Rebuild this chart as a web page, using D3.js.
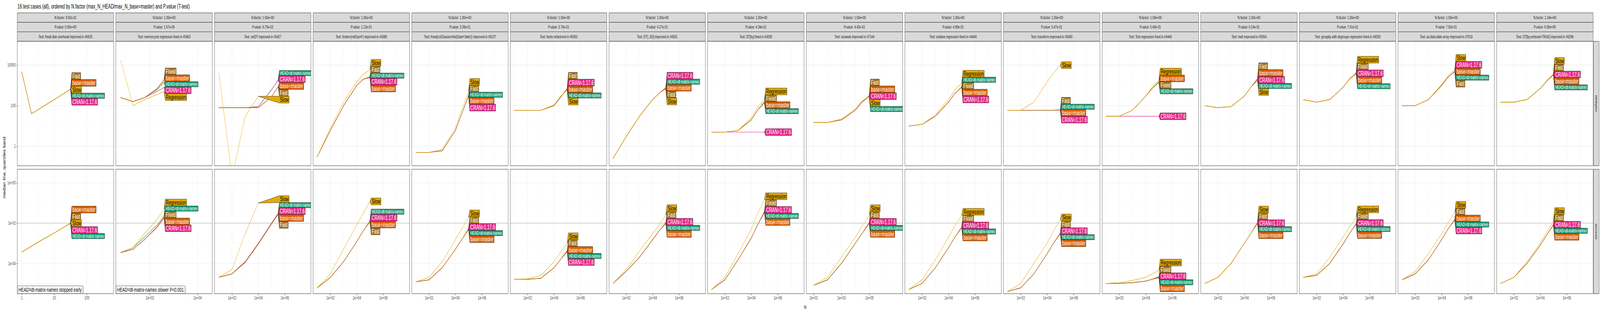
<!DOCTYPE html>
<html>
<head>
<meta charset="utf-8">
<script src="https://cdn.jsdelivr.net/npm/d3@7"></script>
<style>
  html, body { margin: 0; padding: 0; background: #fff; overflow: hidden; }
  svg { display: block; }
  text { font-family: "Liberation Sans", Arial, sans-serif; }
</style>
</head>
<body>
<script>
// ---------------------------------------------------------------- data
const titleText = "16 test cases (all), ordered by N.factor (max_N_HEAD/max_N_base=master) and P.value (T-test)"

const testNames = [
  "fread disk overhead improved in #6925",
  "memrecycle regression fixed in #5463",
  "setDT improved in #5427",
  "forderv(retGrp=F) improved in #4386",
  "fread(colClasses=list(Date='date')) improved in #6107",
  "fwrite refactored in #6393",
  "DT[,.SD] improved in #4501",
  "DT[by] fixed in #4200",
  "isoweek improved in #7144",
  "shallow regression fixed in #4440",
  "transform improved in #5493",
  "Test regression fixed in #4440",
  "melt improved in #5054",
  "groupby with dogroups regression fixed in #4200",
  "as.data.table.array improved in #7019",
  "DT[by,verbose=TRUE] improved in #6296"
]
const nFactors = [0.992, 1, 1, 1, 1, 1, 1, 1, 1, 1, 1, 1, 1, 1, 1, 1.24]
const pValues = [0, 1.67e-6, 6.75e-2, 1.12e-1, 3.39e-1, 3.76e-1, 4.27e-1, 4.34e-1,
  4.42e-1, 4.89e-1, 5.47e-1, 5.49e-1, 6.24e-1, 7.41e-1, 7.92e-1, 0]

// x axis limits (N) and tick labels for every column
const xLimits = [
  [0.73, 676], [3.8, 4.2e4], [4.7, 0.99e8], [5, 0.99e8], [5, 0.99e8], [5, 0.99e8], [5, 0.99e8], [5, 0.99e8],
  [3, 2.5e7], [5, 0.99e8], [5, 0.99e8], [5, 0.99e8], [5, 0.99e8], [5, 0.99e8], [5, 0.99e8], [5, 0.99e8]
]
const xTickLabels = [
  ["1", "10", "100"], ["1e+02", "1e+04"], ["1e+02", "1e+04", "1e+06"], ["1e+02", "1e+04", "1e+06"],
  ["1e+02", "1e+04", "1e+06"], ["1e+02", "1e+04", "1e+06"], ["1e+02", "1e+04", "1e+06"], ["1e+02", "1e+04", "1e+06"],
  ["1e+01", "1e+03", "1e+05"], ["1e+02", "1e+04", "1e+06"], ["1e+02", "1e+04", "1e+06"], ["1e+02", "1e+04", "1e+06"],
  ["1e+02", "1e+04", "1e+06"], ["1e+02", "1e+04", "1e+06"], ["1e+02", "1e+04", "1e+06"], ["1e+02", "1e+04", "1e+06"]
]
const yTopLabels = ["1", "100", "10000"]
const yBottomLabels = ["1e-04", "1e-02", "1e+00"]
const rowNames = ["kilobytes", "seconds"]

// N values of each column
const nValues = [
  [1, 2, 4, 8, 16, 32],
  [6, 20, 60, 200, 400],
  [10, 100, 1e3, 1e4, 1e5, 3.2e5],
  [10, 100, 1e3, 1e4, 3e4, 1e5], [10, 100, 1e3, 1e4, 3e4, 1e5], [10, 100, 1e3, 1e4, 3e4, 1e5],
  [10, 100, 1e3, 1e4, 3e4, 1e5], [10, 100, 1e3, 1e4, 3e4, 1e5], [10, 100, 1e3, 1e4, 3e4, 1e5],
  [10, 100, 1e3, 1e4, 3e4, 1e5], [10, 100, 1e3, 1e4, 3e4, 1e5], [10, 100, 1e3, 1e4, 3e4, 1e5],
  [10, 100, 1e3, 1e4, 3e4, 1e5], [10, 100, 1e3, 1e4, 3e4, 1e5], [10, 100, 1e3, 1e4, 3e4, 1e5],
  [10, 100, 1e3, 1e4, 3e4, 1e5]
]

const versionNames = ["HEAD=dt-matrix-names", "CRAN=1.17.6", "base=master"]
const fastNames = ["Fast", "Fixed", "Fast", "Fast", "Fast", "Fast", "Fast", "Fixed",
  "Fast", "Fixed", "Fast", "Fixed", "Fast", "Fixed", "Fast", "Fast"]
const slowNames = ["Slow", "Regression", "Slow", "Slow", "Slow", "Slow", "Slow", "Regression",
  "Slow", "Regression", "Slow", "Regression", "Slow", "Regression", "Slow", "Slow"]
const versionColors = ["#1B9E77", "#E7298A", "#D95F02", "#A6761D", "#E6AB02"]

const panelNotes = ["HEAD=dt-matrix-names stopped early", "HEAD=dt-matrix-names slower P<0.001"]

// memory (kilobytes), median per N
const kbHEAD = [
  [4700, 40, 80, 160, 320, 645], [250, 160, 250, 600, 1400], [80, 80, 80, 90, 600, 1800],
  [0.3, 6, 100, 1000, 2000, 2600], [0.5, 0.5, 0.6, 6, 40, 320], [60, 60, 60, 100, 250, 650],
  [0.25, 3, 30, 200, 400, 750], [5, 5, 6, 20, 60, 140], [15, 15, 20, 60, 150, 280],
  [10, 12, 30, 150, 400, 850], [60, 60, 60, 60, 60, 62], [30, 30, 60, 300, 700, 1400],
  [100, 80, 90, 300, 800, 1900], [200, 150, 200, 800, 2000, 3800], [100, 100, 200, 1000, 2500, 4800],
  [150, 150, 200, 700, 1600, 3300]
]
const kbCRAN = [
  [4700, 40, 80, 160, 320, 640], [250, 160, 250, 500, 800], [80, 80, 80, 90, 620, 1700],
  [0.3, 6, 100, 1000, 2000, 2500], [0.5, 0.5, 0.6, 6, 40, 300], [60, 60, 60, 100, 250, 700],
  [0.25, 3, 30, 200, 400, 780], [5, 5, 5, 5, 5, 5], [15, 15, 20, 60, 150, 300],
  [10, 12, 30, 150, 400, 800], [60, 60, 60, 60, 60, 60], [30, 30, 30, 30, 30, 30],
  [100, 80, 90, 300, 800, 2000], [200, 150, 200, 800, 2000, 4000], [100, 100, 200, 1000, 2500, 5000],
  [150, 150, 200, 700, 1600, 3500]
]
const kbBase = [
  [4700, 40, 80, 160, 320, 655], [250, 160, 250, 650, 1700], [80, 80, 80, 80, 280, 880],
  [0.3, 6, 100, 1000, 2000, 2400], [0.5, 0.5, 0.6, 6, 40, 310], [60, 60, 60, 100, 250, 680],
  [0.25, 3, 30, 200, 400, 720], [5, 5, 6, 20, 60, 150], [15, 15, 20, 60, 150, 310],
  [10, 12, 30, 150, 400, 820], [60, 60, 60, 60, 60, 61], [30, 30, 60, 300, 700, 1500],
  [100, 80, 90, 300, 800, 2100], [200, 150, 200, 800, 2000, 3900], [100, 100, 200, 1000, 2500, 4900],
  [150, 150, 200, 700, 1600, 3400]
]
const kbFast = [
  [4700, 40, 80, 160, 320, 660], [250, 160, 250, 700, 2000], [80, 80, 80, 80, 270, 850],
  [0.3, 6, 100, 1000, 2000, 2700], [0.5, 0.5, 0.6, 6, 40, 330], [60, 60, 60, 100, 250, 720],
  [0.25, 3, 30, 200, 400, 700], [5, 5, 6, 20, 60, 160], [15, 15, 20, 60, 150, 320],
  [10, 12, 30, 150, 400, 830], [60, 60, 60, 60, 60, 63], [30, 30, 60, 300, 700, 1450],
  [100, 80, 90, 300, 800, 2200], [200, 150, 200, 800, 2000, 4100], [100, 100, 200, 1000, 2500, 4700],
  [150, 150, 200, 700, 1600, 3600]
]
const kbSlow = [
  [4700, 40, 80, 160, 320, 650], [1.8e4, 100, 200, 350, 500], [4300, 0.03, 29, 290],
  [0.3, 8, 150, 1500, 3500, 6000], [0.5, 0.5, 0.7, 8, 60, 500], [60, 60, 60, 110, 280, 600],
  [0.25, 3, 30, 200, 400, 680], [5, 5, 6, 25, 80, 200], [15, 15, 22, 70, 170, 290],
  [10, 12, 35, 200, 600, 1300], [60, 60, 150, 1500, 4000, 1e4], [30, 30, 60, 300, 800, 1800],
  [100, 80, 90, 300, 800, 1700], [200, 150, 200, 800, 2100, 4200], [100, 100, 200, 1100, 3000, 6000],
  [150, 150, 200, 700, 1700, 3700]
]

// time (seconds), median per N
const secHEAD = [
  [3.6e-4, 7.1e-4, 1.4e-3, 2.6e-3, 5.1e-3, 0.99e-2], [3.5e-4, 6e-4, 2e-3, 8e-3, 2.5e-2],
  [2e-5, 3e-5, 1.2e-4, 1e-3, 1e-2, 3.1e-2], [6e-6, 2e-5, 1.2e-4, 1.2e-3, 4e-3, 1.3e-2],
  [1.2e-5, 1.5e-5, 6e-5, 5e-4, 1.5e-3, 5e-3], [1.6e-5, 1.6e-5, 1.8e-5, 6e-5, 1.5e-4, 4e-4],
  [1e-5, 4e-5, 2e-4, 1.5e-3, 4e-3, 1e-2], [5e-6, 1.5e-5, 1.5e-4, 1.8e-3, 8e-3, 3.5e-2],
  [8e-6, 1.5e-5, 1e-4, 1e-3, 3e-3, 1e-2], [5e-6, 1e-5, 6e-5, 6e-4, 2e-3, 6e-3],
  [4e-6, 6e-6, 3e-5, 3e-4, 1e-3, 3e-3], [1e-5, 1e-5, 1.1e-5, 1.3e-5, 1.6e-5, 2e-5],
  [1e-5, 2e-5, 1e-4, 1e-3, 3e-3, 1e-2], [2e-5, 2.5e-5, 1e-4, 9e-4, 3e-3, 9e-3],
  [1.5e-5, 3e-5, 1.5e-4, 1.5e-3, 5e-3, 1.5e-2], [1e-5, 2e-5, 1e-4, 8e-4, 2.5e-3, 8e-3]
]
const secCRAN = [
  [3.6e-4, 7.1e-4, 1.4e-3, 2.6e-3, 5.1e-3, 1.0e-2], [3.4e-4, 5e-4, 1.5e-3, 6e-3, 1.8e-2],
  [2e-5, 3e-5, 1.2e-4, 1e-3, 1e-2, 3e-2], [6e-6, 2e-5, 1.2e-4, 1.2e-3, 4e-3, 1.25e-2],
  [1.2e-5, 1.5e-5, 6e-5, 5e-4, 1.5e-3, 5.2e-3], [1.6e-5, 1.6e-5, 1.8e-5, 6e-5, 1.5e-4, 3.8e-4],
  [1e-5, 4e-5, 2e-4, 1.5e-3, 4e-3, 1.05e-2], [5e-6, 1.5e-5, 1.5e-4, 1.8e-3, 8e-3, 3.7e-2],
  [8e-6, 1.5e-5, 1e-4, 1e-3, 3e-3, 1.05e-2], [5e-6, 1e-5, 6e-5, 6e-4, 2e-3, 6.2e-3],
  [4e-6, 6e-6, 3e-5, 3e-4, 1e-3, 3.1e-3], [1e-5, 1e-5, 1.1e-5, 1.3e-5, 1.6e-5, 2.1e-5],
  [1e-5, 2e-5, 1e-4, 1e-3, 3e-3, 1.03e-2], [2e-5, 2.5e-5, 1e-4, 9e-4, 3e-3, 9.2e-3],
  [1.5e-5, 3e-5, 1.5e-4, 1.5e-3, 5e-3, 1.45e-2], [1e-5, 2e-5, 1e-4, 8e-4, 2.5e-3, 8.2e-3]
]
const secBase = [
  [3.6e-4, 7.1e-4, 1.4e-3, 2.6e-3, 5.1e-3, 1.03e-2], [3.4e-4, 5e-4, 1.5e-3, 6e-3, 2e-2],
  [2e-5, 3e-5, 1.1e-4, 9e-4, 9e-3, 2.8e-2], [6e-6, 2e-5, 1.2e-4, 1.2e-3, 4e-3, 1.2e-2],
  [1.2e-5, 1.5e-5, 6e-5, 5e-4, 1.5e-3, 4.8e-3], [1.6e-5, 1.6e-5, 1.8e-5, 6e-5, 1.5e-4, 4.2e-4],
  [1e-5, 4e-5, 2e-4, 1.5e-3, 4e-3, 9.6e-3], [5e-6, 1.5e-5, 1.5e-4, 1.8e-3, 8e-3, 3.3e-2],
  [8e-6, 1.5e-5, 1e-4, 1e-3, 3e-3, 9.5e-3], [5e-6, 1e-5, 6e-5, 6e-4, 2e-3, 5.8e-3],
  [4e-6, 6e-6, 3e-5, 3e-4, 1e-3, 2.9e-3], [1e-5, 1e-5, 1.1e-5, 1.3e-5, 1.6e-5, 1.9e-5],
  [1e-5, 2e-5, 1e-4, 1e-3, 3e-3, 9.7e-3], [2e-5, 2.5e-5, 1e-4, 9e-4, 3e-3, 8.8e-3],
  [1.5e-5, 3e-5, 1.5e-4, 1.5e-3, 5e-3, 1.55e-2], [1e-5, 2e-5, 1e-4, 8e-4, 2.5e-3, 7.8e-3]
]
const secFast = [
  [3.6e-4, 7.1e-4, 1.4e-3, 2.6e-3, 5.1e-3, 1.02e-2], [3.4e-4, 5e-4, 1.5e-3, 6.5e-3, 2.2e-2],
  [2e-5, 3e-5, 1.1e-4, 9e-4, 9e-3, 2.7e-2], [6e-6, 2e-5, 1.2e-4, 1.2e-3, 4e-3, 1.15e-2],
  [1.2e-5, 1.5e-5, 6e-5, 5e-4, 1.5e-3, 5.5e-3], [1.6e-5, 1.6e-5, 1.8e-5, 6e-5, 1.5e-4, 4.4e-4],
  [1e-5, 4e-5, 2e-4, 1.5e-3, 4e-3, 1.1e-2], [5e-6, 1.5e-5, 1.5e-4, 1.8e-3, 8e-3, 4e-2],
  [8e-6, 1.5e-5, 1e-4, 1e-3, 3e-3, 1.1e-2], [5e-6, 1e-5, 6e-5, 6e-4, 2e-3, 6.5e-3],
  [4e-6, 6e-6, 3e-5, 3e-4, 1e-3, 3.3e-3], [1e-5, 1e-5, 1.1e-5, 1.3e-5, 1.6e-5, 2.2e-5],
  [1e-5, 2e-5, 1e-4, 1e-3, 3e-3, 1.07e-2], [2e-5, 2.5e-5, 1e-4, 9e-4, 3e-3, 9.6e-3],
  [1.5e-5, 3e-5, 1.5e-4, 1.5e-3, 5e-3, 1.6e-2], [1e-5, 2e-5, 1e-4, 8e-4, 2.5e-3, 8.6e-3]
]
const secSlow = [
  [3.6e-4, 7.1e-4, 1.4e-3, 2.6e-3, 5.1e-3, 1.01e-2], [3.4e-4, 6e-4, 3e-3, 1.5e-2, 5e-2],
  [2e-5, 5e-5, 3e-3, 1e-1], [6e-6, 3e-5, 5e-4, 8e-3, 3e-2, 1.2e-1],
  [1.2e-5, 2e-5, 1.2e-4, 1.5e-3, 5e-3, 2e-2], [1.6e-5, 1.7e-5, 2.5e-5, 1.2e-4, 3.5e-4, 1e-3],
  [1e-5, 5e-5, 4e-4, 3e-3, 8e-3, 2.5e-2], [5e-6, 2e-5, 3e-4, 5e-3, 3e-2, 1.5e-1],
  [8e-6, 2e-5, 2e-4, 2e-3, 7e-3, 2.5e-2], [5e-6, 1.5e-5, 1.5e-4, 2e-3, 7e-3, 2.5e-2],
  [4e-6, 1e-5, 1e-4, 1e-3, 4e-3, 1.5e-2], [1e-5, 1.1e-5, 1.4e-5, 2e-5, 3e-5, 4.5e-5],
  [1e-5, 2e-5, 1e-4, 1e-3, 3e-3, 1.2e-2], [2e-5, 3e-5, 2e-4, 2e-3, 6e-3, 2e-2],
  [1.5e-5, 4e-5, 3e-4, 3e-3, 1e-2, 3.5e-2], [1e-5, 2e-5, 1.2e-4, 1e-3, 3.5e-3, 1.2e-2]
]

// ---------------------------------------------------------------- layout
// the chart is laid out on a 6400 x 800 grid and fitted to the window
const W = 6400, H = 800
const left = 69, panelW = 385.8, gapX = 8.7
const stripTop = 33, stripH = 24.3
const rowTop = [106, 434], rowH = 319
const nPanels = testNames.length

const svg = d3.select("body").append("svg")
  .attr("width", "100vw").attr("height", "100vh")
  .attr("viewBox", "0 0 " + W + " " + H)
  .attr("preserveAspectRatio", "none")
svg.append("rect").attr("width", W).attr("height", H).attr("fill", "#fff")

// hidden text used to measure label widths
const measure = svg.append("text").attr("visibility", "hidden")
function textWidth(s, size) {
  measure.attr("font-size", size).text(s)
  return measure.node().getComputedTextLength()
}

function sci(v) {
  let s = v.toExponential(2)
  return s.replace(/e([+-])(\d)$/, "e$10$2")
}

// y scales shared by each row
const yScales = [
  d3.scaleLog().domain([0.11, 1.48e5]).range([rowTop[0] + rowH, rowTop[0]]),
  d3.scaleLog().domain([3.09e-6, 4.79]).range([rowTop[1] + rowH, rowTop[1]])
]
const yLabels = [yTopLabels, yBottomLabels]
const rowData = [
  [kbHEAD, kbCRAN, kbBase, kbFast, kbSlow],
  [secHEAD, secCRAN, secBase, secFast, secSlow]
]

// minor breaks halfway between majors (log space)
function minorBreaks(majors, domain) {
  const L = majors.map(Math.log10)
  const step = L.length > 1 ? L[1] - L[0] : 1
  const lo = Math.log10(domain[0]), hi = Math.log10(domain[1])
  const out = []
  for (let v = L[0] - step / 2; v <= hi; v += step) if (v >= lo) out.push(Math.pow(10, v))
  return out
}

// title
svg.append("text").attr("x", 70).attr("y", 22).attr("font-size", 16).attr("fill", "#000").text(titleText)

// axis titles
svg.append("text")
  .attr("transform", "translate(22," + ((rowTop[0] + rowTop[1] + rowH) / 2) + ") rotate(-90)")
  .attr("text-anchor", "middle").attr("font-size", 13).text("median line, quantiles band")
svg.append("text").attr("x", left + (nPanels * panelW + (nPanels - 1) * gapX) / 2).attr("y", 792)
  .attr("text-anchor", "middle").attr("font-size", 13).text("N")

// qp-like stacking of labels (isotonic regression on ordered targets)
function stackLabels(items, top, bottom) {
  items.sort((a, b) => a.ty - b.ty)
  let off = 0
  items.forEach((d, i) => {
    if (i > 0) off += (items[i - 1].h + d.h) / 2
    d.off = off
    d.t = d.ty - off
  })
  const blocks = []
  items.forEach(d => {
    blocks.push({ sum: d.t, n: 1, items: [d] })
    while (blocks.length > 1) {
      const b = blocks[blocks.length - 1], a = blocks[blocks.length - 2]
      if (a.sum / a.n <= b.sum / b.n) break
      blocks.pop()
      a.sum += b.sum; a.n += b.n; a.items = a.items.concat(b.items)
    }
  })
  blocks.forEach(b => b.items.forEach(d => { d.cy = b.sum / b.n + d.off }))
  const first = items[0], last = items[items.length - 1]
  let shift = 0
  if (last.cy + last.h / 2 > bottom) shift = bottom - (last.cy + last.h / 2)
  if (first.cy - first.h / 2 + shift < top) shift = top - (first.cy - first.h / 2)
  items.forEach(d => { d.cy += shift })
}

// ---------------------------------------------------------------- panels
for (let p = 0; p < nPanels; p++) {
  const px = left + p * (panelW + gapX)

  // strips
  const stripTexts = ["N.factor: " + sci(nFactors[p]), "P.value: " + sci(pValues[p]), "Test: " + testNames[p]]
  stripTexts.forEach((s, k) => {
    svg.append("rect").attr("x", px).attr("y", stripTop + k * stripH).attr("width", panelW).attr("height", stripH)
      .attr("fill", "#D9D9D9").attr("stroke", "#333333").attr("stroke-width", 1)
    svg.append("text").attr("x", px + panelW / 2).attr("y", stripTop + k * stripH + stripH / 2 + 4)
      .attr("text-anchor", "middle").attr("font-size", 11).attr("fill", "#1A1A1A").text(s)
  })

  const x = d3.scaleLog().domain(xLimits[p]).range([px, px + panelW])
  const xTicks = xTickLabels[p].map(Number)
  const xMinor = minorBreaks(xTicks, xLimits[p])
  const N = nValues[p]
  const labelNames = [versionNames[0], versionNames[1], versionNames[2], fastNames[p], slowNames[p]]

  for (let r = 0; r < 2; r++) {
    const y = yScales[r]
    const y0 = rowTop[r]
    const yTicks = yLabels[r].map(Number)
    const yMinor = minorBreaks(yTicks, y.domain())
    const clipId = "clip-" + p + "-" + r
    svg.append("clipPath").attr("id", clipId).append("rect")
      .attr("x", px).attr("y", y0).attr("width", panelW).attr("height", rowH)

    const g = svg.append("g").attr("clip-path", "url(#" + clipId + ")")
    g.append("rect").attr("x", px).attr("y", y0).attr("width", panelW).attr("height", rowH).attr("fill", "#fff")

    // grid
    g.selectAll(".xminor").data(xMinor).join("line")
      .attr("x1", d => x(d)).attr("x2", d => x(d)).attr("y1", y0).attr("y2", y0 + rowH)
      .attr("stroke", "#F2F2F2").attr("stroke-width", 0.8)
    g.selectAll(".yminor").data(yMinor).join("line")
      .attr("x1", px).attr("x2", px + panelW).attr("y1", d => y(d)).attr("y2", d => y(d))
      .attr("stroke", "#F2F2F2").attr("stroke-width", 0.8)
    g.selectAll(".xmajor").data(xTicks).join("line")
      .attr("x1", d => x(d)).attr("x2", d => x(d)).attr("y1", y0).attr("y2", y0 + rowH)
      .attr("stroke", "#EBEBEB").attr("stroke-width", 1.1)
    g.selectAll(".ymajor").data(yTicks).join("line")
      .attr("x1", px).attr("x2", px + panelW).attr("y1", d => y(d)).attr("y2", d => y(d))
      .attr("stroke", "#EBEBEB").attr("stroke-width", 1.1)
    if (r === 1) {
      g.append("line").attr("x1", px).attr("x2", px + panelW).attr("y1", y(0.01)).attr("y2", y(0.01))
        .attr("stroke", "#BEBEBE").attr("stroke-width", 1.1)
    }

    // median lines
    const series = rowData[r].map((arr, v) => ({ v: v, values: arr[p] }))
    const line = d3.line().x((d, i) => x(N[i])).y(d => y(d))
    g.selectAll(".med").data(series).join("path")
      .attr("d", d => line(d.values))
      .attr("fill", "none").attr("stroke", d => versionColors[d.v]).attr("stroke-width", 1.2)

    // direct labels at the end of each line
    const items = series.map(s => {
      const i = s.values.length - 1
      const size = s.v === 0 ? 12 : 16
      return {
        v: s.v, ex: x(N[i]), ey: y(s.values[i]), ty: y(s.values[i]),
        size: size, h: size + 1.5, w: textWidth(labelNames[s.v], size) + 4
      }
    })
    const lx = d3.max(items, d => d.ex) + 5
    stackLabels(items, y0, y0 + rowH)
    const lab = g.selectAll(".lab").data(items).join("g")
    lab.append("path")
      .attr("d", d => "M" + d.ex + "," + d.ey +
        "L" + lx + "," + (d.cy - d.h / 2) + "L" + (lx + d.w) + "," + (d.cy - d.h / 2) +
        "L" + (lx + d.w) + "," + (d.cy + d.h / 2) + "L" + lx + "," + (d.cy + d.h / 2) + "Z")
      .attr("fill", d => versionColors[d.v]).attr("stroke", "#1A1A1A").attr("stroke-width", 0.9)
    lab.append("text")
      .attr("x", lx + 2).attr("y", d => d.cy + d.size * 0.36)
      .attr("font-size", d => d.size)
      .attr("fill", d => d.v === 4 ? "#000" : "#fff")
      .text(d => labelNames[d.v])

    // note box
    if (r === 1 && panelNotes[p]) {
      const tw = textWidth(panelNotes[p], 15)
      g.append("rect").attr("x", px + 0.5).attr("y", y0 + rowH - 20).attr("width", tw + 10).attr("height", 20)
        .attr("rx", 2.5).attr("fill", "#fff").attr("stroke", "#1A1A1A").attr("stroke-width", 0.9)
      g.append("text").attr("x", px + 5).attr("y", y0 + rowH - 5).attr("font-size", 15).attr("fill", "#000")
        .text(panelNotes[p])
    }

    // border
    svg.append("rect").attr("x", px).attr("y", y0).attr("width", panelW).attr("height", rowH)
      .attr("fill", "none").attr("stroke", "#333333").attr("stroke-width", 1)

    // y axis on first column
    if (p === 0) {
      const ay = svg.append("g").attr("transform", "translate(" + px + ",0)")
        .call(d3.axisLeft(y).tickValues(yTicks).tickFormat((d, i) => yLabels[r][i]).tickSize(4).tickPadding(2))
      ay.select(".domain").remove()
      ay.selectAll("line").attr("stroke", "#333333")
      ay.selectAll("text").attr("font-size", 12).attr("fill", "#4D4D4D").attr("font-family", "Liberation Sans, Arial, sans-serif")
    }
    // x axis on bottom row
    if (r === 1) {
      const ax = svg.append("g").attr("transform", "translate(0," + (y0 + rowH) + ")")
        .call(d3.axisBottom(x).tickValues(xTicks).tickFormat((d, i) => xTickLabels[p][i]).tickSize(4).tickPadding(2))
      ax.select(".domain").remove()
      ax.selectAll("line").attr("stroke", "#333333")
      ax.selectAll("text").attr("font-size", 12).attr("fill", "#4D4D4D").attr("font-family", "Liberation Sans, Arial, sans-serif")
    }
  }
}

// right strips
const rightX = left + nPanels * panelW + (nPanels - 1) * gapX + 2.2
rowNames.forEach((name, r) => {
  svg.append("rect").attr("x", rightX).attr("y", rowTop[r]).attr("width", 22).attr("height", rowH)
    .attr("fill", "#D9D9D9").attr("stroke", "#333333").attr("stroke-width", 1)
  svg.append("text")
    .attr("transform", "translate(" + (rightX + 7) + "," + (rowTop[r] + rowH / 2) + ") rotate(90)")
    .attr("text-anchor", "middle").attr("font-size", 11).attr("fill", "#1A1A1A").text(name)
})
measure.remove()
</script>
</body>
</html>
